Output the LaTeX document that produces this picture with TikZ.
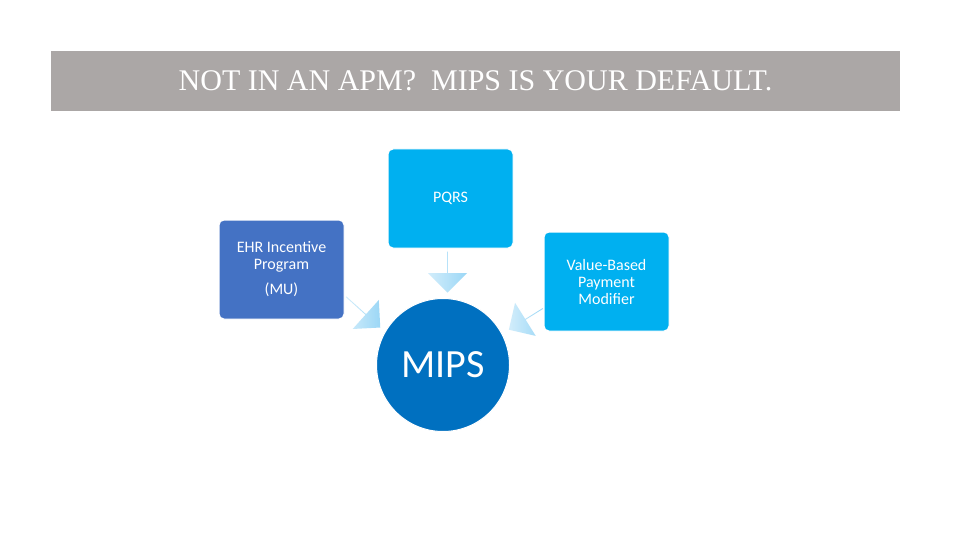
\documentclass[tikz,border=0pt]{standalone}
\usepackage{fontspec}
\setmainfont{Liberation Serif}
\newfontfamily\calfont{Carlito}
\usetikzlibrary{shapes.arrows}
\definecolor{bar}{HTML}{ABA7A6}
\definecolor{sky}{HTML}{00B0F0}
\definecolor{ehr}{HTML}{4472C4}
\definecolor{mips}{HTML}{0070C0}
\definecolor{arr}{HTML}{9BD7F6}
\begin{document}
\begin{tikzpicture}[x=1pt,y=-1pt,
  box/.style={draw=white,line width=1pt,rounded corners=5pt,minimum width=125pt,minimum height=99pt,inner sep=0pt,text=white,align=center,font=\calfont\fontsize{16}{22}\selectfont},
  arrowk/.style={single arrow,draw=none,left color=arr!45,right color=arr,single arrow head extend=9pt,minimum height=#1,minimum width=39pt,inner sep=0pt,single arrow tip angle=90}]
\useasboundingbox (0,0) rectangle (960,540);
\fill[white] (0,0) rectangle (960,540);
\node[fill=bar,minimum width=849pt,minimum height=60pt,inner sep=0pt,text=white,font=\fontsize{30}{36}\selectfont] (title) at (475.5,81) {NOT IN AN APM?\ \ MIPS IS YOUR DEFAULT.};
\node[box,fill=sky] (pqrs) at (450.5,198.5) {PQRS};
\node[box,fill=ehr] (ehr) at (281.5,269.5) {EHR Incentive\\[-5pt]Program\\[3pt](MU)};
\node[box,fill=sky] (vbpm) at (606.5,281.5) {Value-Based\\[-5pt]Payment\\[-5pt]Modifier};
\node[circle,fill=mips,draw=white,line width=1pt,minimum size=133pt,inner sep=0pt,text=white,font=\calfont\fontsize{40}{44}\selectfont] (mipsn) at (443,365) {MIPS};
\node[arrowk=41pt,rotate=-90] (a1) at (447.5,272) {};
\node[arrowk=46pt,rotate=-42] (a2) at (363,312) {};
\node[arrowk=40pt,rotate=-148] (a3) at (526,319) {};
\end{tikzpicture}
\end{document}
